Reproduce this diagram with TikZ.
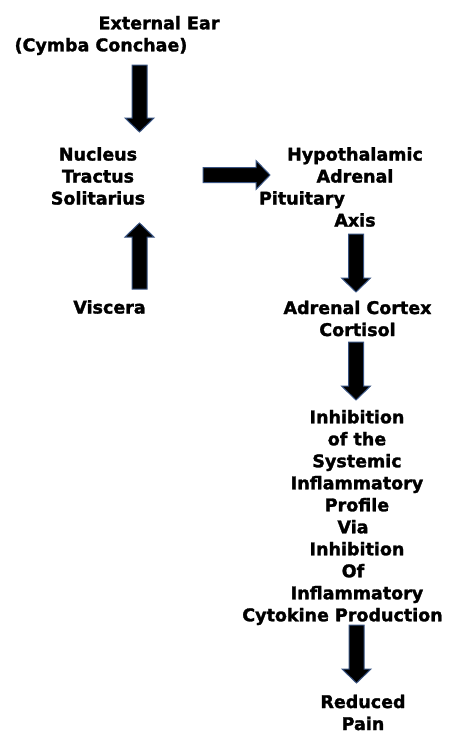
\documentclass[tikz,border=0pt]{standalone}
\usepackage{fontspec}
\setmainfont[BoldFeatures={FakeBold=1.6}]{DejaVu Sans}
\usepackage{tikz}
\usetikzlibrary{calc}
\definecolor{arrowedge}{RGB}{56,83,130}
\newcommand{\blockarrow}[2]{%
	\coordinate (h) at ($(#2)!14pt!(#1)$);
	\draw[blockarrow] ($(#1)!7.5pt!90:(#2)$) -- ($(h)!7.5pt!-90:(#1)$) -- ($(h)!14.5pt!-90:(#1)$) -- (#2)
	-- ($(h)!14.5pt!90:(#1)$) -- ($(h)!7.5pt!90:(#1)$) -- ($(#1)!7.5pt!-90:(#2)$) -- cycle;}

\begin{document}
\begin{tikzpicture}[x=1pt,y=-1pt,
		blockarrow/.style={fill=black,draw=arrowedge,line width=1pt,line join=miter},
		flowtext/.style={font=\bfseries\fontsize{17.5}{22}\selectfont,align=center,inner sep=0pt}]
			\path[fill=white,use as bounding box] (0,0) rectangle (466,740);
			
			\node[flowtext,align=left] (ear) at (117,35.5) {\rule{84pt}{0pt}External Ear\\(Cymba Conchae)};
			\node[flowtext] (nts) at (98,176) {Nucleus\\Tractus\\Solitarius};
			\node[flowtext] (viscera) at (109.5,307) {Viscera};
			\node[flowtext] (hpa) at (355,187) {Hypothalamic\\Adrenal\\Pituitary\rule{106pt}{0pt}\\Axis};
			\node[flowtext] (cortex) at (357.5,318.5) {Adrenal Cortex\\Cortisol};
			\node[flowtext] (inhib) at (357,517.5) {Inhibition\\of the\\Systemic\\Inflammatory\\Profile\\Via\rule{8pt}{0pt}\\Inhibition\\Of\rule{8pt}{0pt}\\Inflammatory\\Cytokine Production\rule{29pt}{0pt}};
			\node[flowtext] (pain) at (363,712.5) {Reduced\\Pain};
			
			% arrow ends
			\coordinate (ear-s) at (139.5,65);
			\coordinate (ear-t) at (139.5,132);
			\coordinate (nts-s) at (203,175);
			\coordinate (nts-t) at (270,175);
			\coordinate (vis-s) at (139.5,289);
			\coordinate (vis-t) at (139.5,223);
			\coordinate (hpa-s) at (356,234);
			\coordinate (hpa-t) at (356,292);
			\coordinate (cor-s) at (356,342);
			\coordinate (cor-t) at (356,400);
			\coordinate (inh-s) at (356.5,625);
			\coordinate (inh-t) at (356.5,683);
			
			\blockarrow{ear-s}{ear-t}
			\blockarrow{nts-s}{nts-t}
			\blockarrow{vis-s}{vis-t}
			\blockarrow{hpa-s}{hpa-t}
			\blockarrow{cor-s}{cor-t}
			\blockarrow{inh-s}{inh-t}
		\end{tikzpicture}
\end{document}
